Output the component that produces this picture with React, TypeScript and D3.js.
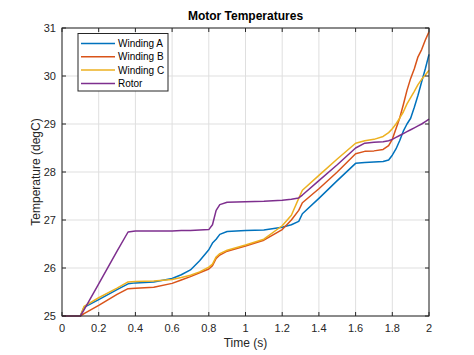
import React from "react";
import * as d3 from "d3";

const timeS = [0, 0.1, 0.12, 0.2, 0.3, 0.36, 0.4, 0.5, 0.6, 0.65, 0.7, 0.75, 0.8, 0.82, 0.84, 0.86, 0.9, 1.0, 1.1, 1.2, 1.25, 1.29, 1.31, 1.4, 1.5, 1.6, 1.65, 1.7, 1.75, 1.78, 1.8, 1.82, 1.84, 1.86, 1.88, 1.9, 1.92, 1.94, 1.96, 1.98, 2.0];

const windingA = [25, 25, 25.18, 25.34, 25.55, 25.67, 25.69, 25.71, 25.78, 25.86, 25.96, 26.15, 26.38, 26.52, 26.6, 26.7, 26.76, 26.78, 26.79, 26.85, 26.9, 26.97, 27.13, 27.45, 27.82, 28.18, 28.2, 28.21, 28.22, 28.25, 28.35, 28.48, 28.65, 28.85, 29.0, 29.12, 29.35, 29.6, 29.88, 30.15, 30.45];

const windingB = [25, 25, 25.05, 25.22, 25.45, 25.57, 25.58, 25.6, 25.68, 25.75, 25.82, 25.9, 25.98, 26.05, 26.2, 26.27, 26.35, 26.46, 26.58, 26.8, 27.0, 27.2, 27.36, 27.65, 28.0, 28.38, 28.43, 28.44, 28.47, 28.55, 28.68, 28.9, 29.12, 29.4, 29.7, 29.95, 30.15, 30.4, 30.55, 30.75, 30.92];

const windingC = [25, 25, 25.2, 25.38, 25.58, 25.71, 25.72, 25.73, 25.76, 25.8, 25.85, 25.92, 26.02, 26.08, 26.23, 26.3, 26.37, 26.48, 26.6, 26.88, 27.1, 27.45, 27.62, 27.93, 28.27, 28.6, 28.65, 28.68, 28.74, 28.82, 28.9, 29.0, 29.12, 29.25, 29.42, 29.55, 29.68, 29.82, 29.93, 30.02, 30.12];

const rotor = [25, 25, 25.13, 25.67, 26.35, 26.75, 26.77, 26.77, 26.77, 26.78, 26.78, 26.79, 26.8, 26.9, 27.2, 27.32, 27.37, 27.38, 27.39, 27.41, 27.43, 27.46, 27.52, 27.82, 28.15, 28.5, 28.6, 28.62, 28.63, 28.65, 28.68, 28.72, 28.76, 28.8, 28.84, 28.88, 28.92, 28.96, 29.0, 29.05, 29.1];

const seriesNames = ["Winding A", "Winding B", "Winding C", "Rotor"];
const seriesColors = ["#0072BD", "#D95319", "#EDB120", "#7E2F8E"];
const xTicks = [0, 0.2, 0.4, 0.6, 0.8, 1, 1.2, 1.4, 1.6, 1.8, 2];
const yTicks = [25, 26, 27, 28, 29, 30, 31];

const W = 474;
const H = 355;
const left = 62;
const right = 429;
const top = 28;
const bottom = 316;
const font = "'Liberation Sans', Arial, sans-serif";
const axisColor = "#262626";

export default function App() {
  const x = d3.scaleLinear().domain([0, 2]).range([left, right]);
  const y = d3.scaleLinear().domain([25, 31]).range([bottom, top]);
  const allSeries = [windingA, windingB, windingC, rotor];
  const line = d3
    .line<[number, number]>()
    .x((d) => x(d[0]))
    .y((d) => y(d[1]));

  const tickLen = 4;

  return (
    <svg
      width={W}
      height={H}
      style={{ position: "absolute", left: 0, top: 0, background: "#fff" }}
      fontFamily={font}
    >
      <rect x={0} y={0} width={W} height={H} fill="#fff" />
      {/* grid */}
      {xTicks.map((t) => (
        <line key={"gx" + t} x1={x(t)} x2={x(t)} y1={top} y2={bottom} stroke="#dfdfdf" strokeWidth={1} />
      ))}
      {yTicks.map((t) => (
        <line key={"gy" + t} x1={left} x2={right} y1={y(t)} y2={y(t)} stroke="#dfdfdf" strokeWidth={1} />
      ))}
      {/* data lines */}
      <g clipPath="url(#clip)">
        {allSeries.map((vals, i) => (
          <path
            key={seriesNames[i]}
            d={line(timeS.map((t, j) => [t, vals[j]] as [number, number])) || ""}
            fill="none"
            stroke={seriesColors[i]}
            strokeWidth={1.5}
            strokeLinejoin="round"
          />
        ))}
      </g>
      <defs>
        <clipPath id="clip">
          <rect x={left} y={top - 1} width={right - left + 1} height={bottom - top + 2} />
        </clipPath>
      </defs>
      {/* axes box */}
      <rect x={left} y={top} width={right - left} height={bottom - top} fill="none" stroke={axisColor} strokeWidth={1} />
      {/* ticks */}
      {xTicks.map((t) => (
        <g key={"tx" + t}>
          <line x1={x(t)} x2={x(t)} y1={bottom} y2={bottom - tickLen} stroke={axisColor} />
          <line x1={x(t)} x2={x(t)} y1={top} y2={top + tickLen} stroke={axisColor} />
          <text x={x(t)} y={332} textAnchor="middle" fontSize={11} fill={axisColor}>
            {d3.format("~g")(t)}
          </text>
        </g>
      ))}
      {yTicks.map((t) => (
        <g key={"ty" + t}>
          <line x1={left} x2={left + tickLen} y1={y(t)} y2={y(t)} stroke={axisColor} />
          <line x1={right} x2={right - tickLen} y1={y(t)} y2={y(t)} stroke={axisColor} />
          <text x={56} y={y(t) + 4} textAnchor="end" fontSize={11} fill={axisColor}>
            {t}
          </text>
        </g>
      ))}
      {/* title and labels */}
      <text x={(left + right) / 2} y={20} textAnchor="middle" fontSize={12} fontWeight="bold" fill="#000">
        Motor Temperatures
      </text>
      <text x={(left + right) / 2} y={347} textAnchor="middle" fontSize={12} fill={axisColor}>
        Time (s)
      </text>
      <text
        transform={`translate(40, ${(top + bottom) / 2}) rotate(-90)`}
        textAnchor="middle"
        fontSize={12}
        fill={axisColor}
      >
        Temperature (degC)
      </text>
      {/* legend */}
      <rect x={78} y={33.5} width={90} height={57.5} fill="#fff" stroke={axisColor} strokeWidth={1} />
      {seriesNames.map((name, i) => {
        const cy = 43.5 + i * 13.3;
        return (
          <g key={"lg" + name}>
            <line x1={81} x2={115} y1={cy} y2={cy} stroke={seriesColors[i]} strokeWidth={1.5} />
            <text x={118} y={cy + 3.6} fontSize={10} fill="#000">
              {name}
            </text>
          </g>
        );
      })}
    </svg>
  );
}
